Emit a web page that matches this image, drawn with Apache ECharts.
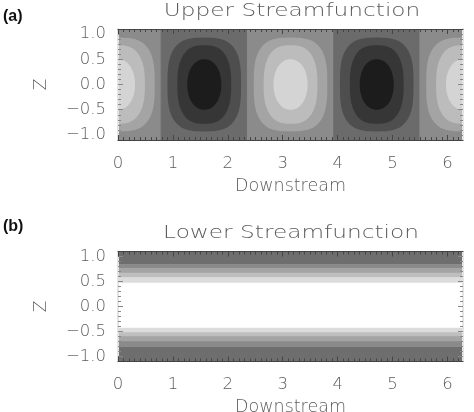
<!DOCTYPE html>
<html>
<head>
<meta charset="utf-8">
<script src="https://cdn.jsdelivr.net/npm/echarts@6/dist/echarts.min.js"></script>
<style>
  html, body { margin: 0; padding: 0; background: #fff; }
  #chart { width: 474px; height: 412px; }
</style>
</head>
<body>
<div id="chart"></div>
<script>
// axis ranges and tick labels
const xMax = 6.283
const zMin = -1.1
const zMax = 1.1
const xTicks = [0, 1, 2, 3, 4, 5, 6]
const zTicks = [-1.0, -0.5, 0.0, 0.5, 1.0]

// (a) upper streamfunction
// cells between the zero contours, +1 = positive (light), -1 = negative (dark)
const upperCellEdges = [0, 0.785, 2.356, 3.927, 5.498, 6.283]
const upperCellSign = [1, -1, 1, -1, 1]
// centres of the closed contours
const upperCentres = [0, 1.571, 3.142, 4.712, 6.283]
// contour levels 1..3 : half width (downstream) and half height (z)
const ringHalfX = [0.67, 0.49, 0.31]
const ringHalfZ = [0.93, 0.78, 0.50]

// (b) lower streamfunction, band edges from the wall inward (levels 1..5)
const lowerTopEdges = [0.84, 0.76, 0.67, 0.58, 0.48]
const lowerBottomEdges = [-0.80, -0.69, -0.59, -0.51, -0.43]

// styles
const posGrays = ['#8b8b8b', '#a4a4a4', '#bcbcbc', '#d4d4d4']
const negGrays = ['#6b6b6b', '#4e4e4e', '#363636', '#1c1c1c']
const bandGrays = ['#6e6e6e', '#8a8a8a', '#a4a4a4', '#bebebe', '#dcdcdc']
const ringRound = [3.0, 2.6, 2.1] // superellipse exponent per contour
const textGray = '#5c5c5c'
const font = 'DejaVu Sans'

// minor tick positions
const xMinor = []
for (let i = 1; i < 63; i++) if (i % 10) xMinor.push(i / 10)
const zMinor = []
for (let i = -10; i <= 10; i++) if (i % 5) zMinor.push(i / 10)

const chart = echarts.init(document.getElementById('chart'))

function xAxes(g) {
  const base = {
    gridIndex: g,
    type: 'value',
    min: 0,
    max: xMax,
    splitLine: { show: false },
    z: 5
  }
  const frame = { show: true, onZero: false, lineStyle: { color: '#444', width: 1 } }
  const hidden = { show: false, onZero: false }
  return [
    Object.assign({}, base, {
      position: 'bottom',
      axisLine: frame,
      axisTick: { inside: true, length: 5, customValues: xTicks, lineStyle: { color: '#444' } },
      axisLabel: {
        customValues: xTicks,
        margin: 15,
        fontSize: 16.5,
        fontFamily: font,
        fontWeight: 300,
        color: textGray
      },
      name: 'Downstream',
      nameLocation: 'middle',
      nameGap: 37,
      nameTextStyle: { fontSize: 17.5, fontFamily: font, fontWeight: 300, color: textGray }
    }),
    Object.assign({}, base, {
      position: 'bottom',
      axisLine: hidden,
      axisTick: { inside: true, length: 3, customValues: xMinor, lineStyle: { color: '#444' } },
      axisLabel: { show: false }
    }),
    Object.assign({}, base, {
      position: 'top',
      axisLine: frame,
      axisTick: { inside: true, length: 5, customValues: xTicks, lineStyle: { color: '#444' } },
      axisLabel: { show: false }
    }),
    Object.assign({}, base, {
      position: 'top',
      axisLine: hidden,
      axisTick: { inside: true, length: 3, customValues: xMinor, lineStyle: { color: '#444' } },
      axisLabel: { show: false }
    })
  ]
}

function yAxes(g) {
  const base = {
    gridIndex: g,
    type: 'value',
    min: zMin,
    max: zMax,
    splitLine: { show: false },
    z: 5
  }
  const frame = { show: true, onZero: false, lineStyle: { color: '#e4e4e4', width: 2 } }
  const hidden = { show: false, onZero: false }
  return [
    Object.assign({}, base, {
      position: 'left',
      axisLine: frame,
      axisTick: { inside: true, length: 5, customValues: zTicks, lineStyle: { color: '#888' } },
      axisLabel: {
        customValues: zTicks,
        margin: 12,
        fontSize: 16.5,
        fontFamily: font,
        fontWeight: 300,
        color: textGray,
        formatter: (v) => v.toFixed(1).replace('-', '\u2212')
      },
      name: 'Z',
      nameLocation: 'middle',
      nameGap: 68,
      nameTextStyle: { fontSize: 17, fontFamily: font, fontWeight: 300, color: textGray }
    }),
    Object.assign({}, base, {
      position: 'left',
      axisLine: hidden,
      axisTick: { inside: true, length: 3, customValues: zMinor, lineStyle: { color: '#888' } },
      axisLabel: { show: false }
    }),
    Object.assign({}, base, {
      position: 'right',
      axisLine: frame,
      axisTick: { inside: true, length: 5, customValues: zTicks, lineStyle: { color: '#888' } },
      axisLabel: { show: false }
    }),
    Object.assign({}, base, {
      position: 'right',
      axisLine: hidden,
      axisTick: { inside: true, length: 3, customValues: zMinor, lineStyle: { color: '#888' } },
      axisLabel: { show: false }
    })
  ]
}

// cells of the upper panel: [xFrom, xTo, sign]
const cellData = upperCellSign.map((s, i) => [upperCellEdges[i], upperCellEdges[i + 1], s])
// closed contours: [centre, level, sign], outer levels first
const ringData = []
ringHalfX.forEach((hx, lv) => {
  upperCentres.forEach((c, i) => ringData.push([c, lv, upperCellSign[i]]))
})
// bands of the lower panel: [zFrom, zTo, level]
const bandData = []
lowerTopEdges.forEach((e, lv) => bandData.push([e, lv === 0 ? zMax : lowerTopEdges[lv - 1], lv]))
lowerBottomEdges.forEach((e, lv) => bandData.push([lv === 0 ? zMin : lowerBottomEdges[lv - 1], e, lv]))

function renderCell(params, api) {
  const p0 = api.coord([api.value(0), zMax])
  const p1 = api.coord([api.value(1), zMin])
  const fill = api.value(2) > 0 ? posGrays[0] : negGrays[0]
  return {
    type: 'rect',
    shape: { x: p0[0], y: p0[1], width: p1[0] - p0[0], height: p1[1] - p0[1] },
    style: { fill: fill, stroke: fill, lineWidth: 0.8 }
  }
}

function renderRing(params, api) {
  const cx = api.value(0)
  const lv = api.value(1)
  const a = ringHalfX[lv]
  const b = ringHalfZ[lv]
  const n = ringRound[lv]
  const pts = []
  for (let k = 0; k < 96; k++) {
    const t = (k / 96) * 2 * Math.PI
    const c = Math.cos(t)
    const s = Math.sin(t)
    const dx = Math.sign(c) * Math.pow(Math.abs(c), 2 / n)
    const dz = Math.sign(s) * Math.pow(Math.abs(s), 2 / n)
    pts.push(api.coord([cx + a * dx, b * dz]))
  }
  return {
    type: 'polygon',
    shape: { points: pts },
    style: { fill: (api.value(2) > 0 ? posGrays : negGrays)[lv + 1] }
  }
}

function renderBand(params, api) {
  const p0 = api.coord([0, api.value(1)])
  const p1 = api.coord([xMax, api.value(0)])
  const fill = bandGrays[api.value(2)]
  return {
    type: 'rect',
    shape: { x: p0[0], y: p0[1], width: p1[0] - p0[0], height: p1[1] - p0[1] },
    style: { fill: fill, stroke: fill, lineWidth: 0.5 }
  }
}

function label(text, x, y, opts) {
  return {
    type: 'text',
    x: x,
    y: y,
    scaleX: opts.scaleX || 1,
    style: {
      text: text,
      textAlign: opts.align || 'center',
      align: opts.align || 'center',
      textVerticalAlign: 'middle',
      verticalAlign: 'middle',
      fill: opts.color || textGray,
      fontSize: opts.size,
      fontFamily: opts.family || font,
      fontWeight: opts.weight || 300
    }
  }
}

chart.setOption({
  animation: false,
  backgroundColor: '#fff',
  graphic: [
    label('(a)', 3, 17, { align: 'left', size: 16, family: 'Liberation Sans', weight: 'bold', color: '#111' }),
    label('(b)', 3, 227, { align: 'left', size: 16, family: 'Liberation Sans', weight: 'bold', color: '#111' }),
    label('Upper Streamfunction', 292, 11, { size: 18, scaleX: 1.29 }),
    label('Lower Streamfunction', 291, 233, { size: 18, scaleX: 1.29 })
  ],
  grid: [
    { left: 118, right: 11, top: 29, height: 111, outerBoundsMode: 'none' },
    { left: 118, right: 11, top: 251.5, height: 110, outerBoundsMode: 'none' }
  ],
  xAxis: xAxes(0).concat(xAxes(1)),
  yAxis: yAxes(0).concat(yAxes(1)),
  series: [
    {
      type: 'custom',
      xAxisIndex: 0,
      yAxisIndex: 0,
      clip: true,
      renderItem: renderCell,
      data: cellData
    },
    {
      type: 'custom',
      xAxisIndex: 0,
      yAxisIndex: 0,
      clip: true,
      renderItem: renderRing,
      data: ringData
    },
    {
      type: 'custom',
      xAxisIndex: 4,
      yAxisIndex: 4,
      clip: true,
      renderItem: renderBand,
      data: bandData
    }
  ]
})
</script>
</body>
</html>
